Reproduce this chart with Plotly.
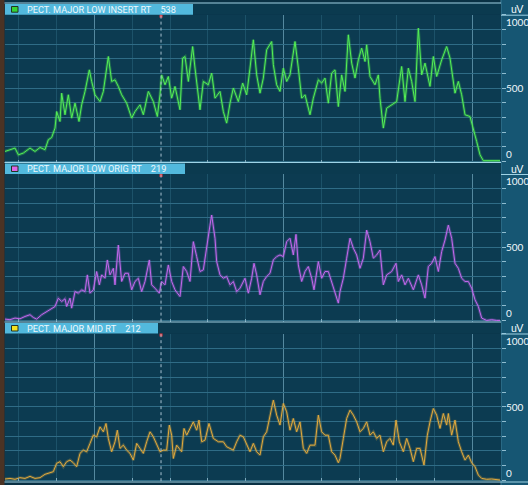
import plotly.graph_objects as go

# ---------------- data ----------------
FS = 113.4
CURSOR_T = 4.26     # cursor position, s

titles = ["PECT. MAJOR LOW INSERT RT", "PECT. MAJOR LOW ORIG RT", "PECT. MAJOR MID RT"]
peaks = [538, 219, 212]
y_tick_labels = [0, 500, 1000]

insert_n = [15,30,45,55,70,90,105,120,135,145,155,165,170,180,185,195,205,215,225,237,245,255,268,275,285,300,310,325,335,345,
            355,365,380,395,405,420,430,445,460,472,480,485,495,505,515,525,540,548,555,565,578,585,600,610,625,635,645,660,670,680,
            690,700,715,728,740,750,760,770,780,790,800,815,820,830,840,850,860,870,885,895,905,915,930,940,955,965,975,985,995,1005,
            1015,1025,1035,1045,1055,1065,1075,1085,1095,1100,1110,1125,1135,1140,1150,1160,1175,1190,1205,1215,1225,1235,1245,1255,1265,1275,1290,1300,1310,1325,
            1340,1350,1365,1375,1385,1395,1410,1420,1430,1440,1450,1500]
insert_uv = [68,80,91,45,57,91,68,95,80,148,163,227,340,272,465,318,454,295,397,272,386,477,624,545,454,408,477,715,545,556,
             511,454,397,295,340,386,318,477,408,306,454,590,522,579,431,511,352,704,715,545,783,636,352,545,522,602,431,477,340,261,
             397,500,408,534,454,636,829,590,465,568,761,817,659,522,477,636,545,590,817,636,431,454,318,431,556,534,568,397,602,624,
             374,590,477,863,670,568,692,772,681,795,579,522,590,431,227,363,386,408,647,408,636,545,408,908,590,670,511,715,579,692,
             783,704,465,545,454,318,306,227,136,45,5,5]

orig_n = [15,30,45,60,75,90,100,110,125,140,155,165,175,185,195,200,210,215,225,235,245,255,262,270,280,290,298,305,315,322,
          330,340,345,355,365,375,385,395,405,415,425,435,448,455,465,478,485,495,505,515,525,540,550,560,570,580,590,600,610,620,
          630,635,645,650,660,670,680,690,700,710,720,735,745,755,762,770,780,790,800,810,820,830,840,850,860,870,880,888,895,905,
          915,925,935,942,955,965,975,985,995,1005,1015,1020,1030,1040,1050,1060,1070,1080,1090,1100,1110,1120,1130,1140,1150,1160,1175,1188,1195,1205,
          1215,1225,1240,1255,1265,1275,1285,1295,1305,1315,1325,1335,1345,1355,1365,1375,1385,1395,1405,1415,1425,1435,1445,1460,1475,1490,1500]
orig_uv = [9,5,16,11,27,39,20,9,39,61,79,95,152,129,148,95,152,84,197,186,209,197,311,186,209,334,243,311,288,413,
           311,356,243,515,266,322,322,209,266,288,197,266,413,243,220,186,266,243,379,266,209,163,368,334,266,538,436,334,345,515,
           651,720,561,402,311,288,300,243,266,197,220,288,186,288,390,311,175,266,300,322,413,436,447,436,538,561,447,588,379,266,
           334,368,288,209,402,288,334,334,266,186,118,197,288,425,561,493,447,356,425,617,538,425,447,481,243,311,334,390,266,311,
           243,288,209,311,243,152,368,390,436,334,470,549,651,561,390,356,288,266,266,220,141,95,16,0,5,0,0]

mid_n = [15,30,45,60,75,90,105,120,135,150,160,170,180,190,200,210,220,230,240,250,260,270,280,290,300,310,318,325,335,345,
         352,360,370,380,390,400,410,420,430,440,450,460,470,480,490,500,508,515,520,530,545,552,560,570,580,590,597,605,615,627,
         640,655,670,680,690,700,710,720,730,740,750,760,770,780,790,800,810,820,830,840,850,860,870,880,890,900,910,920,930,945,
         955,965,975,985,995,1005,1015,1020,1030,1040,1050,1060,1070,1080,1090,1100,1110,1120,1130,1140,1150,1160,1170,1180,1188,1198,1210,1220,1230,1240,
         1250,1260,1272,1282,1290,1300,1310,1320,1330,1340,1345,1355,1365,1375,1385,1395,1405,1415,1425,1435,1445,1460,1475,1490,1500]
mid_uv = [7,11,5,16,11,25,11,16,39,52,57,114,125,91,125,136,118,91,182,204,193,250,306,295,363,329,386,284,193,261,
          340,216,238,204,182,136,250,216,182,261,329,295,238,193,204,204,375,306,147,238,193,352,306,352,397,340,409,261,272,386,
          284,261,261,227,216,204,261,306,295,238,193,250,193,170,295,329,443,545,443,375,522,465,340,420,329,397,216,182,238,238,
          443,329,306,306,193,170,118,147,284,420,477,443,397,329,352,397,306,329,284,306,193,261,284,238,409,261,193,284,216,125,
          216,216,102,306,397,488,443,352,454,375,454,306,409,261,193,136,170,118,91,34,11,5,7,0,0]

series_n = [insert_n, orig_n, mid_n]
series_uv = [insert_uv, orig_uv, mid_uv]
line_colors = ["#55f055", "#c468ee", "#e3aa3c"]
glow_colors = ["rgba(80,240,80,0.28)", "rgba(196,104,238,0.25)", "rgba(227,170,60,0.25)"]
icon_colors = ["#35d335", "#e066e6", "#f2e21e"]

# ---------------- layout geometry (pixels) ----------------
W, H = 528, 485
def X(p):
    return p / W
def Y(p):
    return 1 - p / H

PLOT_L, PLOT_R = 5, 501
PX_PER_S = 37.8
# (title_top, plot_top, plot_bottom, title_bar_right)
geo = [(3.5, 14.7, 162.6, 193), (163, 174, 321.6, 185), (322.5, 333.5, 481.2, 158)]

BG = "#0c3b51"
RIGHT_BG = "#165673"
BAR = "#52b9dd"
SEP = "#9fd3e6"
TITLE_FONT = "Roboto"
FONT = "Lato"
GAP = "\u00a0" * 4

fig = go.Figure()
shapes = []
annotations = []

# left strip and right axis column
shapes.append(dict(type="rect", xref="paper", yref="paper", x0=0, x1=X(4.5), y0=0, y1=1,
                   fillcolor="#4b3324", line=dict(width=0), layer="below"))
shapes.append(dict(type="rect", xref="paper", yref="paper", x0=X(PLOT_R), x1=1, y0=0, y1=1,
                   fillcolor=RIGHT_BG, line=dict(width=0), layer="below"))
shapes.append(dict(type="line", xref="paper", yref="paper", x0=X(PLOT_R), x1=X(PLOT_R), y0=0, y1=1,
                   line=dict(color="#3d7d98", width=1), layer="below"))

for i in range(3):
    k = i + 1
    tt, pt, pb, br = geo[i]
    xa = "xaxis" if k == 1 else f"xaxis{k}"
    ya = "yaxis" if k == 1 else f"yaxis{k}"
    xr = "x" if k == 1 else f"x{k}"
    yr = "y" if k == 1 else f"y{k}"

    fig.update_layout({
        xa: dict(domain=[X(PLOT_L), X(PLOT_R)], anchor=yr,
                 range=[PLOT_L / PX_PER_S, PLOT_R / PX_PER_S],
                 tick0=2.5, dtick=5, showgrid=True, gridcolor="#55899f", gridwidth=1,
                 showticklabels=False, ticks="", zeroline=False, showline=False, fixedrange=True,
                 minor=dict(tick0=0.5, dtick=1, showgrid=True, gridcolor="#1c5269", gridwidth=1,
                            ticks="inside", ticklen=3, tickcolor="#7fa9bc")),
        ya: dict(domain=[Y(pb), Y(pt)], anchor=xr, side="right", range=[-8, 1000],
                 tickmode="array", tickvals=list(range(0, 1001, 100)),
                 showticklabels=False, ticks="outside", ticklen=4, tickcolor="#8fbccf",
                 showgrid=True, gridcolor="#2f6c86", gridwidth=1, zeroline=False,
                 showline=False, fixedrange=True),
    })

    t = [n / FS for n in series_n[i]]
    fig.add_trace(go.Scatter(x=t, y=series_uv[i], mode="lines", xaxis=xr, yaxis=yr,
                             line=dict(color=glow_colors[i], width=3.0), hoverinfo="skip",
                             showlegend=False))
    fig.add_trace(go.Scatter(x=t, y=series_uv[i], mode="lines", xaxis=xr, yaxis=yr,
                             line=dict(color=line_colors[i], width=1.0), showlegend=False))
    # red cursor marker at the panel top
    fig.add_trace(go.Scatter(x=[CURSOR_T], y=[990], mode="markers", xaxis=xr, yaxis=yr,
                             marker=dict(color="#e8333a", size=3, symbol="square"),
                             cliponaxis=False, showlegend=False, hoverinfo="skip"))

    # plot background
    shapes.append(dict(type="rect", xref="paper", yref="paper", x0=X(PLOT_L), x1=X(PLOT_R),
                       y0=Y(pb), y1=Y(pt), fillcolor=BG, line=dict(width=0), layer="below"))
    # title row
    shapes.append(dict(type="rect", xref="paper", yref="paper", x0=X(PLOT_L), x1=X(PLOT_R),
                       y0=Y(pt), y1=Y(tt), fillcolor="#0b3a4f", line=dict(width=0), layer="below"))
    shapes.append(dict(type="rect", xref="paper", yref="paper", x0=X(PLOT_L), x1=X(br),
                       y0=Y(pt), y1=Y(tt + 0.5), fillcolor=BAR, line=dict(width=0), layer="above"))
    shapes.append(dict(type="rect", xref="paper", yref="paper", x0=X(11.5), x1=X(18),
                       y0=Y(pt - 2.5), y1=Y(tt + 3), fillcolor=icon_colors[i],
                       line=dict(color="#223322", width=1), layer="above"))
    # separator lines
    shapes.append(dict(type="line", xref="paper", yref="paper", x0=X(4.5), x1=X(PLOT_R),
                       y0=Y(tt - 0.5), y1=Y(tt - 0.5), line=dict(color=SEP, width=1.2), layer="above"))
    shapes.append(dict(type="line", xref="paper", yref="paper", x0=X(PLOT_R), x1=1,
                       y0=Y(pt + 0.5), y1=Y(pt + 0.5), line=dict(color=SEP, width=1), layer="above"))
    # cursor dotted line
    shapes.append(dict(type="line", xref=xr, yref="paper", x0=CURSOR_T, x1=CURSOR_T,
                       y0=Y(pb), y1=Y(pt), line=dict(color="#a8c2d0", width=1, dash="dot"),
                       layer="above"))

    annotations.append(dict(xref="paper", yref="paper", x=X(25), y=Y((tt + pt) / 2 + 0.3),
                            xanchor="left", yanchor="middle", showarrow=False,
                            text=titles[i] + GAP + str(peaks[i]),
                            font=dict(family=TITLE_FONT, size=9.2, color="#eef8fc")))
    annotations.append(dict(xref="paper", yref="paper", x=X(517.5), y=Y((tt + pt) / 2),
                            xanchor="center", yanchor="middle", showarrow=False, text="uV",
                            font=dict(family=FONT, size=10.5, color="#eef6fa")))
    for v in y_tick_labels:
        anc = "top" if v == max(y_tick_labels) else ("bottom" if v == 0 else "middle")
        annotations.append(dict(xref="paper", yref=yr, x=X(504.5), y=v, xanchor="left",
                                yanchor=anc, showarrow=False, text=str(v), borderpad=0,
                                font=dict(family=FONT, size=10, color="#eef6fa")))

shapes.append(dict(type="line", xref="paper", yref="paper", x0=X(4.5), x1=1,
                   y0=Y(482), y1=Y(482), line=dict(color=SEP, width=1.2), layer="above"))

fig.update_layout(width=W, height=H, margin=dict(l=0, r=0, t=0, b=0),
                  paper_bgcolor="#0a3144", plot_bgcolor="rgba(0,0,0,0)",
                  shapes=shapes, annotations=annotations, showlegend=False)

fig.write_html("out.html", config={"displayModeBar": False},
               post_script="document.body.style.margin='0';document.body.style.overflow='hidden';")
